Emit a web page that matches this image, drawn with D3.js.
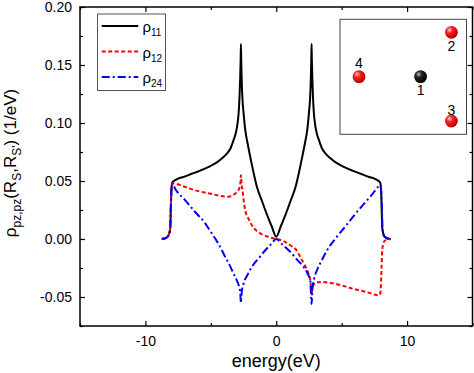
<!DOCTYPE html>
<meta charset="utf-8">
<style>
  body { margin: 0; background: #fff; }
  svg text { font-family: "Liberation Sans", Arial, sans-serif; }
  .axis text { font-size: 14px; fill: #000; }
  .axis line { stroke: #000; stroke-width: 1.2; }
</style>
<script src="https://d3js.org/d3.v7.min.js"></script>
<div id="chart"></div>
<script>
// ---- data ----
var xTicks = [-10, 0, 10];
var xMinor = [-15, -5, 5, 15];
var yTicks = [-0.05, 0.00, 0.05, 0.10, 0.15, 0.20];
var yMinor = [-0.075, -0.025, 0.025, 0.075, 0.125, 0.175];

var seriesNames = ["ρ11", "ρ12", "ρ24"];

// rho11 : energy, value
var e11 = [-8.75, -8.4, -8.2, -8.1, -8.05, -8.0, -7.93, -7.5, -7.09, -6.5, -5.81, -5.2, -4.54, -4.1, -3.77, -3.5, -3.27, -3.1, -2.96, -2.88, -2.81, -2.76, -2.72, -2.70,
           -2.67, -2.63, -2.58, -2.5, -2.37, -2.2, -1.99, -1.75, -1.48, -1.1, -0.71, -0.35, 0,
           0.35, 0.71, 1.1, 1.48, 1.75, 1.99, 2.2, 2.37, 2.5, 2.58, 2.63, 2.67,
           2.70, 2.72, 2.76, 2.81, 2.88, 2.96, 3.1, 3.27, 3.5, 3.77, 4.1, 4.54, 5.2, 5.81, 6.5, 7.09, 7.5, 7.93, 8.0, 8.05, 8.1, 8.2, 8.4, 8.75];
var v11 = [0.000, 0.001, 0.004, 0.010, 0.030, 0.045, 0.049, 0.052, 0.0535, 0.056, 0.059, 0.062, 0.066, 0.070, 0.0736, 0.078, 0.085, 0.091, 0.0995, 0.108, 0.122, 0.138, 0.155, 0.168,
           0.150, 0.133, 0.120, 0.109, 0.094, 0.083, 0.071, 0.058, 0.045, 0.033, 0.021, 0.011, 0.002,
           0.011, 0.021, 0.033, 0.045, 0.058, 0.071, 0.083, 0.094, 0.109, 0.120, 0.133, 0.150,
           0.168, 0.155, 0.138, 0.122, 0.108, 0.0995, 0.091, 0.085, 0.078, 0.0736, 0.070, 0.066, 0.062, 0.059, 0.056, 0.0535, 0.052, 0.049, 0.045, 0.030, 0.010, 0.004, 0.001, 0.000];

// rho12
var e12 = [-8.75, -8.4, -8.2, -8.1, -8.05, -8.0, -7.93, -7.0, -6.2, -5.0, -4.2, -3.64, -3.3, -3.0, -2.85, -2.75, -2.70, -2.65, -2.58, -2.45, -2.37, -2.1, -1.86, -1.5, -1.09, -0.6, 0,
           0.6, 1.07, 1.5, 1.84, 2.2, 2.47, 2.62, 2.70, 2.78, 3.0, 3.37, 4.2, 5.0, 5.91, 7.0, 7.83, 7.95, 8.0, 8.05, 8.1, 8.2, 8.4, 8.75];
var v12 = [0.000, 0.001, 0.004, 0.010, 0.030, 0.045, 0.048, 0.045, 0.042, 0.039, 0.037, 0.0365, 0.038, 0.0405, 0.043, 0.047, 0.055, 0.048, 0.042, 0.030, 0.0247, 0.017, 0.0118, 0.007, 0.004, 0.0018, 0.000,
           -0.002, -0.0054, -0.009, -0.0155, -0.023, -0.030, -0.037, -0.048, -0.041, -0.038, -0.037, -0.038, -0.040, -0.043, -0.046, -0.0486, -0.047, -0.040, -0.025, -0.010, -0.003, -0.0008, 0.000];

// rho24
var e24 = [-8.75, -8.4, -8.2, -8.1, -8.05, -8.0, -7.95, -7.73, -7.0, -6.2, -5.5, -4.92, -4.4, -3.9, -3.5, -3.26, -3.0, -2.88, -2.76, -2.70, -2.64, -2.5, -2.2, -1.86, -1.3, -0.84, -0.4, 0,
           0.4, 1.07, 1.6, 2.09, 2.4, 2.6, 2.70, 2.76, 2.9, 3.11, 3.5, 3.88, 4.5, 5.15, 6.0, 6.68, 7.3, 7.96, 8.03, 8.08, 8.12, 8.2, 8.4, 8.6];
var v24 = [0.000, 0.001, 0.004, 0.010, 0.030, 0.045, 0.048, 0.0434, 0.034, 0.0233, 0.0145, 0.0047, -0.0045, -0.0155, -0.024, -0.030, -0.036, -0.0395, -0.045, -0.055, -0.046, -0.0385, -0.031, -0.024, -0.016, -0.0097, -0.0045, 0.000,
           -0.004, -0.011, -0.018, -0.024, -0.030, -0.0356, -0.056, -0.044, -0.034, -0.027, -0.018, -0.0097, 0.000, 0.009, 0.021, 0.030, 0.038, 0.046, 0.040, 0.025, 0.010, 0.003, 0.001, 0.000];

// inset: atom sites (graphene neighbours)
var atomIds = ["1", "2", "3", "4"];
var atomX = [0, 0.5, 0.5, -1];
var atomY = [0, 0.866, -0.866, 0];

// ---- layout ----
var W = 474, H = 373;
var margin = {top: 7, right: 1.5, bottom: 47, left: 80};
var width = W - margin.left - margin.right,
    height = H - margin.top - margin.bottom;

var svg = d3.select("#chart").append("svg")
    .attr("width", W).attr("height", H);

var defs = svg.append("defs");
var gRed = defs.append("radialGradient").attr("id", "ballRed")
    .attr("cx", "0.35").attr("cy", "0.32").attr("r", "0.7");
gRed.append("stop").attr("offset", "0%").attr("stop-color", "#ffd0d0");
gRed.append("stop").attr("offset", "35%").attr("stop-color", "#ff2020");
gRed.append("stop").attr("offset", "100%").attr("stop-color", "#b00000");
var gBlk = defs.append("radialGradient").attr("id", "ballBlack")
    .attr("cx", "0.35").attr("cy", "0.32").attr("r", "0.7");
gBlk.append("stop").attr("offset", "0%").attr("stop-color", "#bbbbbb");
gBlk.append("stop").attr("offset", "35%").attr("stop-color", "#202020");
gBlk.append("stop").attr("offset", "100%").attr("stop-color", "#000000");

var g = svg.append("g")
    .attr("transform", "translate(" + margin.left + "," + margin.top + ")");

var x = d3.scaleLinear().domain([-15, 15]).range([0, width]);
var y = d3.scaleLinear().domain([-0.075, 0.20]).range([height, 0]);

// plain hyphen for negatives, like the original
var fmtX = function(d) { return d3.format("d")(d).replace("\u2212", "-"); };
var fmtY = function(d) { return d3.format(".2f")(d).replace("\u2212", "-"); };

// axes, ticks pointing inward
g.append("g").attr("class", "axis")
    .attr("transform", "translate(0," + height + ")")
    .call(d3.axisBottom(x).tickValues(xTicks).tickSize(-5).tickPadding(10).tickFormat(fmtX))
    .call(function(s) { s.select(".domain").remove(); });
g.append("g").attr("class", "axis")
    .attr("transform", "translate(0," + height + ")")
    .call(d3.axisBottom(x).tickValues(xMinor).tickSize(-3).tickFormat(""))
    .call(function(s) { s.select(".domain").remove(); });
g.append("g").attr("class", "axis")
    .call(d3.axisTop(x).tickValues(xTicks).tickSize(-5).tickFormat(""))
    .call(function(s) { s.select(".domain").remove(); });
g.append("g").attr("class", "axis")
    .call(d3.axisTop(x).tickValues(xMinor).tickSize(-3).tickFormat(""))
    .call(function(s) { s.select(".domain").remove(); });

g.append("g").attr("class", "axis")
    .call(d3.axisLeft(y).tickValues(yTicks).tickSize(-5).tickPadding(8).tickFormat(fmtY))
    .call(function(s) { s.select(".domain").remove(); });
g.append("g").attr("class", "axis")
    .call(d3.axisLeft(y).tickValues(yMinor).tickSize(-3).tickFormat(""))
    .call(function(s) { s.select(".domain").remove(); });
g.append("g").attr("class", "axis")
    .attr("transform", "translate(" + width + ",0)")
    .call(d3.axisRight(y).tickValues(yTicks).tickSize(-5).tickFormat(""))
    .call(function(s) { s.select(".domain").remove(); });
g.append("g").attr("class", "axis")
    .attr("transform", "translate(" + width + ",0)")
    .call(d3.axisRight(y).tickValues(yMinor).tickSize(-3).tickFormat(""))
    .call(function(s) { s.select(".domain").remove(); });

// curves
var line = d3.line()
    .x(function(d) { return x(d[0]); })
    .y(function(d) { return y(d[1]); })
    .curve(d3.curveMonotoneX);

var series = [
  {name: seriesNames[0], e: e11, v: v11, color: "#000000", dash: null},
  {name: seriesNames[1], e: e12, v: v12, color: "#ff0000", dash: "4,2.5"},
  {name: seriesNames[2], e: e24, v: v24, color: "#0000ff", dash: "8,3,2,3"}
];

series.forEach(function(s) {
  g.append("path")
    .datum(d3.zip(s.e, s.v))
    .attr("fill", "none")
    .attr("stroke", s.color)
    .attr("stroke-width", 2)
    .attr("stroke-dasharray", s.dash)
    .attr("d", line);
});

// frame
g.append("rect")
    .attr("width", width).attr("height", height)
    .attr("fill", "none").attr("stroke", "#000").attr("stroke-width", 1.5);

// legend
var lg = svg.append("g");
lg.append("rect")
    .attr("x", 97.5).attr("y", 14).attr("width", 68).attr("height", 76.5)
    .attr("fill", "#fff").attr("stroke", "#555").attr("stroke-width", 1);
series.forEach(function(s, i) {
  var ly = 26 + i * 25.5;
  lg.append("line")
    .attr("x1", 101.7).attr("x2", 138.3).attr("y1", ly).attr("y2", ly)
    .attr("stroke", s.color).attr("stroke-width", 2)
    .attr("stroke-dasharray", s.dash);
  var t = lg.append("text").attr("x", 142.5).attr("y", ly + 6)
    .style("font-size", "15px");
  t.append("tspan").text(s.name.charAt(0));
  t.append("tspan").attr("dy", 4).style("font-size", "10px").text(s.name.slice(1));
});

// inset with atoms
var ins = svg.append("g");
ins.append("rect")
    .attr("x", 340).attr("y", 19.3).attr("width", 126.5).attr("height", 115)
    .attr("fill", "#fff").attr("stroke", "#444").attr("stroke-width", 1);
var ix = d3.scaleLinear().domain([-1, 0.5]).range([359, 451.4]);
var iy = d3.scaleLinear().domain([-0.866, 0.866]).range([121, 32.3]);
var labelDy = [18, 18.5, -6.5, -9];
atomIds.forEach(function(id, i) {
  ins.append("circle")
    .attr("cx", ix(atomX[i])).attr("cy", iy(atomY[i])).attr("r", 6.4)
    .attr("fill", id === "1" ? "url(#ballBlack)" : "url(#ballRed)");
  ins.append("text")
    .attr("x", ix(atomX[i])).attr("y", iy(atomY[i]) + labelDy[i])
    .attr("text-anchor", "middle")
    .style("font-size", "14px")
    .text(id);
});

// axis titles
svg.append("text")
    .attr("x", margin.left + width / 2).attr("y", 367)
    .attr("text-anchor", "middle")
    .style("font-size", "18px")
    .text("energy(eV)");

var yl = svg.append("text")
    .attr("transform", "translate(16,163) rotate(-90)")
    .attr("text-anchor", "middle")
    .style("font-size", "17px");
yl.append("tspan").text("ρ");
yl.append("tspan").attr("dy", 5).style("font-size", "12px").text("pz,pz");
yl.append("tspan").attr("dy", -5).text("(R");
yl.append("tspan").attr("dy", 5).style("font-size", "12px").text("S");
yl.append("tspan").attr("dy", -5).text(",R");
yl.append("tspan").attr("dy", 5).style("font-size", "12px").text("S'");
yl.append("tspan").attr("dy", -5).text(") (1/eV)");
</script>
